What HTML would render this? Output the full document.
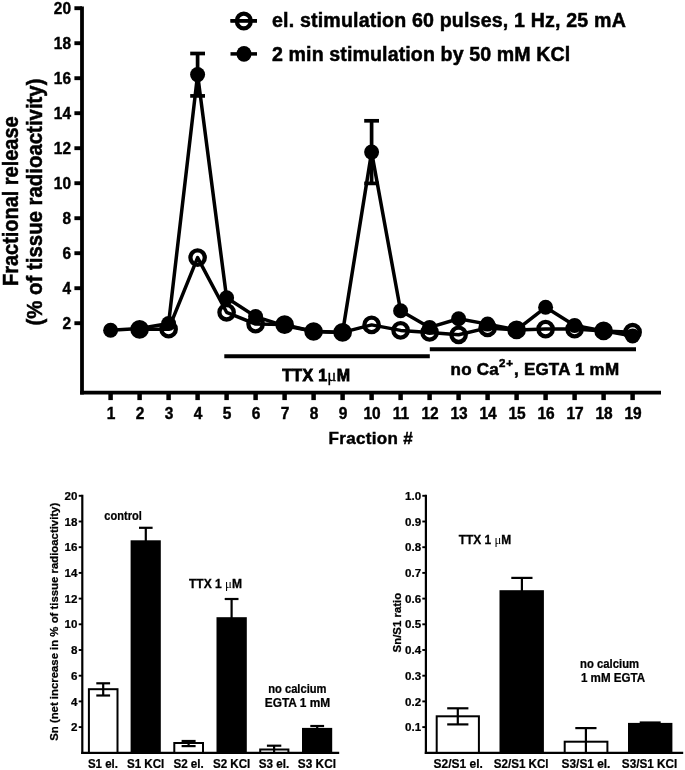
<!DOCTYPE html>
<html lang="en">
<head>
<meta charset="utf-8">
<title>Fractional release figure</title>
<style>
html,body{margin:0;padding:0;background:#fff;}
body{width:685px;height:770px;overflow:hidden;}
svg{display:block;}
svg text{font-family:"Liberation Sans", Arial, Helvetica, sans-serif;font-weight:bold;fill:#000;}
</style>
</head>
<body>
<svg width="685" height="770" viewBox="0 0 685 770">
<rect x="0" y="0" width="685" height="770" fill="#fff"/>
<line x1="82.00" y1="6.45" x2="82.00" y2="394.50" stroke="#000" stroke-width="3.8" />
<line x1="80.10" y1="392.60" x2="661.00" y2="392.60" stroke="#000" stroke-width="3.8" />
<line x1="74.40" y1="323.20" x2="82.00" y2="323.20" stroke="#000" stroke-width="3.9" />
<text transform="translate(71.00,328.70) scale(0.975,1)" font-size="15.8" text-anchor="end" stroke="#000" stroke-width="0.40" >2</text>
<line x1="74.40" y1="288.20" x2="82.00" y2="288.20" stroke="#000" stroke-width="3.9" />
<text transform="translate(71.00,293.70) scale(0.975,1)" font-size="15.8" text-anchor="end" stroke="#000" stroke-width="0.40" >4</text>
<line x1="74.40" y1="253.20" x2="82.00" y2="253.20" stroke="#000" stroke-width="3.9" />
<text transform="translate(71.00,258.70) scale(0.975,1)" font-size="15.8" text-anchor="end" stroke="#000" stroke-width="0.40" >6</text>
<line x1="74.40" y1="218.20" x2="82.00" y2="218.20" stroke="#000" stroke-width="3.9" />
<text transform="translate(71.00,223.70) scale(0.975,1)" font-size="15.8" text-anchor="end" stroke="#000" stroke-width="0.40" >8</text>
<line x1="74.40" y1="183.20" x2="82.00" y2="183.20" stroke="#000" stroke-width="3.9" />
<text transform="translate(71.00,188.70) scale(0.975,1)" font-size="15.8" text-anchor="end" stroke="#000" stroke-width="0.40" >10</text>
<line x1="74.40" y1="148.20" x2="82.00" y2="148.20" stroke="#000" stroke-width="3.9" />
<text transform="translate(71.00,153.70) scale(0.975,1)" font-size="15.8" text-anchor="end" stroke="#000" stroke-width="0.40" >12</text>
<line x1="74.40" y1="113.20" x2="82.00" y2="113.20" stroke="#000" stroke-width="3.9" />
<text transform="translate(71.00,118.70) scale(0.975,1)" font-size="15.8" text-anchor="end" stroke="#000" stroke-width="0.40" >14</text>
<line x1="74.40" y1="78.20" x2="82.00" y2="78.20" stroke="#000" stroke-width="3.9" />
<text transform="translate(71.00,83.70) scale(0.975,1)" font-size="15.8" text-anchor="end" stroke="#000" stroke-width="0.40" >16</text>
<line x1="74.40" y1="43.20" x2="82.00" y2="43.20" stroke="#000" stroke-width="3.9" />
<text transform="translate(71.00,48.70) scale(0.975,1)" font-size="15.8" text-anchor="end" stroke="#000" stroke-width="0.40" >18</text>
<line x1="74.40" y1="8.20" x2="82.00" y2="8.20" stroke="#000" stroke-width="3.9" />
<text transform="translate(71.00,13.70) scale(0.975,1)" font-size="15.8" text-anchor="end" stroke="#000" stroke-width="0.40" >20</text>
<line x1="110.60" y1="392.60" x2="110.60" y2="400.10" stroke="#000" stroke-width="4.5" />
<text transform="translate(111.00,418.60) scale(0.917,1)" font-size="16.9" text-anchor="middle" stroke="#000" stroke-width="0.42" >1</text>
<line x1="139.60" y1="392.60" x2="139.60" y2="400.10" stroke="#000" stroke-width="4.5" />
<text transform="translate(140.00,418.60) scale(0.917,1)" font-size="16.9" text-anchor="middle" stroke="#000" stroke-width="0.42" >2</text>
<line x1="168.60" y1="392.60" x2="168.60" y2="400.10" stroke="#000" stroke-width="4.5" />
<text transform="translate(169.00,418.60) scale(0.917,1)" font-size="16.9" text-anchor="middle" stroke="#000" stroke-width="0.42" >3</text>
<line x1="197.60" y1="392.60" x2="197.60" y2="400.10" stroke="#000" stroke-width="4.5" />
<text transform="translate(198.00,418.60) scale(0.917,1)" font-size="16.9" text-anchor="middle" stroke="#000" stroke-width="0.42" >4</text>
<line x1="226.60" y1="392.60" x2="226.60" y2="400.10" stroke="#000" stroke-width="4.5" />
<text transform="translate(227.00,418.60) scale(0.917,1)" font-size="16.9" text-anchor="middle" stroke="#000" stroke-width="0.42" >5</text>
<line x1="255.60" y1="392.60" x2="255.60" y2="400.10" stroke="#000" stroke-width="4.5" />
<text transform="translate(256.00,418.60) scale(0.917,1)" font-size="16.9" text-anchor="middle" stroke="#000" stroke-width="0.42" >6</text>
<line x1="284.60" y1="392.60" x2="284.60" y2="400.10" stroke="#000" stroke-width="4.5" />
<text transform="translate(285.00,418.60) scale(0.917,1)" font-size="16.9" text-anchor="middle" stroke="#000" stroke-width="0.42" >7</text>
<line x1="313.60" y1="392.60" x2="313.60" y2="400.10" stroke="#000" stroke-width="4.5" />
<text transform="translate(314.00,418.60) scale(0.917,1)" font-size="16.9" text-anchor="middle" stroke="#000" stroke-width="0.42" >8</text>
<line x1="342.60" y1="392.60" x2="342.60" y2="400.10" stroke="#000" stroke-width="4.5" />
<text transform="translate(343.00,418.60) scale(0.917,1)" font-size="16.9" text-anchor="middle" stroke="#000" stroke-width="0.42" >9</text>
<line x1="371.60" y1="392.60" x2="371.60" y2="400.10" stroke="#000" stroke-width="4.5" />
<text transform="translate(372.00,418.60) scale(0.917,1)" font-size="16.9" text-anchor="middle" stroke="#000" stroke-width="0.42" >10</text>
<line x1="400.60" y1="392.60" x2="400.60" y2="400.10" stroke="#000" stroke-width="4.5" />
<text transform="translate(401.00,418.60) scale(0.917,1)" font-size="16.9" text-anchor="middle" stroke="#000" stroke-width="0.42" >11</text>
<line x1="429.60" y1="392.60" x2="429.60" y2="400.10" stroke="#000" stroke-width="4.5" />
<text transform="translate(430.00,418.60) scale(0.917,1)" font-size="16.9" text-anchor="middle" stroke="#000" stroke-width="0.42" >12</text>
<line x1="458.60" y1="392.60" x2="458.60" y2="400.10" stroke="#000" stroke-width="4.5" />
<text transform="translate(459.00,418.60) scale(0.917,1)" font-size="16.9" text-anchor="middle" stroke="#000" stroke-width="0.42" >13</text>
<line x1="487.60" y1="392.60" x2="487.60" y2="400.10" stroke="#000" stroke-width="4.5" />
<text transform="translate(488.00,418.60) scale(0.917,1)" font-size="16.9" text-anchor="middle" stroke="#000" stroke-width="0.42" >14</text>
<line x1="516.60" y1="392.60" x2="516.60" y2="400.10" stroke="#000" stroke-width="4.5" />
<text transform="translate(517.00,418.60) scale(0.917,1)" font-size="16.9" text-anchor="middle" stroke="#000" stroke-width="0.42" >15</text>
<line x1="545.60" y1="392.60" x2="545.60" y2="400.10" stroke="#000" stroke-width="4.5" />
<text transform="translate(546.00,418.60) scale(0.917,1)" font-size="16.9" text-anchor="middle" stroke="#000" stroke-width="0.42" >16</text>
<line x1="574.60" y1="392.60" x2="574.60" y2="400.10" stroke="#000" stroke-width="4.5" />
<text transform="translate(575.00,418.60) scale(0.917,1)" font-size="16.9" text-anchor="middle" stroke="#000" stroke-width="0.42" >17</text>
<line x1="603.60" y1="392.60" x2="603.60" y2="400.10" stroke="#000" stroke-width="4.5" />
<text transform="translate(604.00,418.60) scale(0.917,1)" font-size="16.9" text-anchor="middle" stroke="#000" stroke-width="0.42" >18</text>
<line x1="632.60" y1="392.60" x2="632.60" y2="400.10" stroke="#000" stroke-width="4.5" />
<text transform="translate(633.00,418.60) scale(0.917,1)" font-size="16.9" text-anchor="middle" stroke="#000" stroke-width="0.42" >19</text>
<text transform="translate(17.8,201.2) rotate(-90)" font-size="21.2" text-anchor="middle" textLength="169.5" lengthAdjust="spacingAndGlyphs" stroke="#000" stroke-width="0.5">Fractional release</text>
<text transform="translate(41.7,202) rotate(-90)" font-size="21.2" text-anchor="middle" textLength="247" lengthAdjust="spacingAndGlyphs" stroke="#000" stroke-width="0.5">(% of tissue radioactivity)</text>
<text x="328.60" y="444.00" font-size="17" text-anchor="start" textLength="84.0" lengthAdjust="spacing" stroke="#000" stroke-width="0.43" >Fraction #</text>
<line x1="224.30" y1="356.20" x2="429.80" y2="356.20" stroke="#000" stroke-width="3.9" />
<line x1="429.80" y1="349.30" x2="636.00" y2="349.30" stroke="#000" stroke-width="3.9" />
<text x="282.3" y="381.3" font-size="16" stroke="#000" stroke-width="0.8" textLength="67.8" lengthAdjust="spacing">TTX 1<tspan stroke-width="0.3" font-family='"Liberation Serif", "DejaVu Serif", serif' font-weight="normal" font-size="17">μ</tspan>M</text>
<text x="450.6" y="374.8" font-size="17" textLength="168.5" lengthAdjust="spacing" stroke="#000" stroke-width="0.55">no Ca<tspan font-size="11.5" dy="-7.8" letter-spacing="0.8">2+</tspan><tspan dy="7.8">, EGTA 1 mM</tspan></text>
<polyline points="139.6,329.3 168.6,329.2 197.6,257.6 226.6,312.3 255.6,324.1 284.6,324.6 313.6,331.5 342.6,332.4 371.6,324.9 400.6,330.4 429.6,332.4 458.6,334.8 487.6,327.9 516.6,329.9 545.6,329.1 574.6,329.1 603.6,330.9 632.6,332.2" fill="none" stroke="#000" stroke-width="3.5" stroke-linejoin="round"/>
<circle cx="139.6" cy="329.3" r="7.2" fill="none" stroke="#000" stroke-width="4.3"/>
<circle cx="168.6" cy="329.2" r="7.2" fill="none" stroke="#000" stroke-width="4.3"/>
<circle cx="197.6" cy="257.6" r="7.2" fill="none" stroke="#000" stroke-width="4.3"/>
<circle cx="226.6" cy="312.3" r="7.2" fill="none" stroke="#000" stroke-width="4.3"/>
<circle cx="255.6" cy="324.1" r="7.2" fill="none" stroke="#000" stroke-width="4.3"/>
<circle cx="284.6" cy="324.6" r="7.2" fill="none" stroke="#000" stroke-width="4.3"/>
<circle cx="313.6" cy="331.5" r="7.2" fill="none" stroke="#000" stroke-width="4.3"/>
<circle cx="342.6" cy="332.4" r="7.2" fill="none" stroke="#000" stroke-width="4.3"/>
<circle cx="371.6" cy="324.9" r="7.2" fill="none" stroke="#000" stroke-width="4.3"/>
<circle cx="400.6" cy="330.4" r="7.2" fill="none" stroke="#000" stroke-width="4.3"/>
<circle cx="429.6" cy="332.4" r="7.2" fill="none" stroke="#000" stroke-width="4.3"/>
<circle cx="458.6" cy="334.8" r="7.2" fill="none" stroke="#000" stroke-width="4.3"/>
<circle cx="487.6" cy="327.9" r="7.2" fill="none" stroke="#000" stroke-width="4.3"/>
<circle cx="516.6" cy="329.9" r="7.2" fill="none" stroke="#000" stroke-width="4.3"/>
<circle cx="545.6" cy="329.1" r="7.2" fill="none" stroke="#000" stroke-width="4.3"/>
<circle cx="574.6" cy="329.1" r="7.2" fill="none" stroke="#000" stroke-width="4.3"/>
<circle cx="603.6" cy="330.9" r="7.2" fill="none" stroke="#000" stroke-width="4.3"/>
<circle cx="632.6" cy="332.2" r="7.2" fill="none" stroke="#000" stroke-width="4.3"/>
<line x1="197.60" y1="53.50" x2="197.60" y2="95.90" stroke="#000" stroke-width="3.7" />
<line x1="190.20" y1="53.50" x2="205.00" y2="53.50" stroke="#000" stroke-width="3.7" />
<line x1="190.20" y1="95.90" x2="205.00" y2="95.90" stroke="#000" stroke-width="3.7" />
<line x1="371.60" y1="120.80" x2="371.60" y2="183.40" stroke="#000" stroke-width="3.7" />
<line x1="364.20" y1="120.80" x2="379.00" y2="120.80" stroke="#000" stroke-width="3.7" />
<line x1="364.20" y1="183.40" x2="379.00" y2="183.40" stroke="#000" stroke-width="3.7" />
<polyline points="110.6,330.2 139.6,328.4 168.6,323.5 197.6,74.6 226.6,297.8 255.6,316.6 284.6,325.8 313.6,331.3 342.6,332.4 371.6,152.1 400.6,310.8 429.6,327.4 458.6,318.7 487.6,324.1 516.6,329.9 545.6,307.3 574.6,325.4 603.6,330.9 632.6,336.0" fill="none" stroke="#000" stroke-width="3.5" stroke-linejoin="round"/>
<circle cx="110.6" cy="330.2" r="7.5" fill="#000"/>
<circle cx="139.6" cy="328.4" r="7.5" fill="#000"/>
<circle cx="168.6" cy="323.5" r="7.5" fill="#000"/>
<circle cx="197.6" cy="74.6" r="7.5" fill="#000"/>
<circle cx="226.6" cy="297.8" r="7.5" fill="#000"/>
<circle cx="255.6" cy="316.6" r="7.5" fill="#000"/>
<circle cx="284.6" cy="325.8" r="7.5" fill="#000"/>
<circle cx="313.6" cy="331.3" r="7.5" fill="#000"/>
<circle cx="342.6" cy="332.4" r="7.5" fill="#000"/>
<circle cx="371.6" cy="152.1" r="7.5" fill="#000"/>
<circle cx="400.6" cy="310.8" r="7.5" fill="#000"/>
<circle cx="429.6" cy="327.4" r="7.5" fill="#000"/>
<circle cx="458.6" cy="318.7" r="7.5" fill="#000"/>
<circle cx="487.6" cy="324.1" r="7.5" fill="#000"/>
<circle cx="516.6" cy="329.9" r="7.5" fill="#000"/>
<circle cx="545.6" cy="307.3" r="7.5" fill="#000"/>
<circle cx="574.6" cy="325.4" r="7.5" fill="#000"/>
<circle cx="603.6" cy="330.9" r="7.5" fill="#000"/>
<circle cx="632.6" cy="336.0" r="7.5" fill="#000"/>
<line x1="230.50" y1="20.80" x2="257.00" y2="20.80" stroke="#000" stroke-width="3.5" />
<ellipse cx="243.8" cy="21.0" rx="7.0" ry="7.4" fill="none" stroke="#000" stroke-width="4.2"/>
<line x1="230.50" y1="20.80" x2="257.00" y2="20.80" stroke="#000" stroke-width="3.5" />
<line x1="230.50" y1="53.90" x2="257.00" y2="53.90" stroke="#000" stroke-width="3.5" />
<ellipse cx="244.0" cy="53.9" rx="7.5" ry="7.9" fill="#000"/>
<text x="272.00" y="27.40" font-size="19.6" text-anchor="start" textLength="353.8" lengthAdjust="spacing" stroke="#000" stroke-width="0.49" >el. stimulation 60 pulses, 1 Hz, 25 mA</text>
<text x="272.00" y="60.50" font-size="19.6" text-anchor="start" textLength="298.3" lengthAdjust="spacing" stroke="#000" stroke-width="0.49" >2 min stimulation by 50 mM KCl</text>
<line x1="82.30" y1="494.80" x2="82.30" y2="753.90" stroke="#000" stroke-width="2.2" />
<line x1="81.20" y1="752.80" x2="339.20" y2="752.80" stroke="#000" stroke-width="2.2" />
<line x1="78.70" y1="727.10" x2="82.30" y2="727.10" stroke="#000" stroke-width="1.9" />
<text x="77.50" y="731.25" font-size="11.6" text-anchor="end" stroke="#000" stroke-width="0.23" >2</text>
<line x1="78.70" y1="701.40" x2="82.30" y2="701.40" stroke="#000" stroke-width="1.9" />
<text x="77.50" y="705.55" font-size="11.6" text-anchor="end" stroke="#000" stroke-width="0.23" >4</text>
<line x1="78.70" y1="675.70" x2="82.30" y2="675.70" stroke="#000" stroke-width="1.9" />
<text x="77.50" y="679.85" font-size="11.6" text-anchor="end" stroke="#000" stroke-width="0.23" >6</text>
<line x1="78.70" y1="650.00" x2="82.30" y2="650.00" stroke="#000" stroke-width="1.9" />
<text x="77.50" y="654.15" font-size="11.6" text-anchor="end" stroke="#000" stroke-width="0.23" >8</text>
<line x1="78.70" y1="624.30" x2="82.30" y2="624.30" stroke="#000" stroke-width="1.9" />
<text x="77.50" y="628.45" font-size="11.6" text-anchor="end" stroke="#000" stroke-width="0.23" >10</text>
<line x1="78.70" y1="598.60" x2="82.30" y2="598.60" stroke="#000" stroke-width="1.9" />
<text x="77.50" y="602.75" font-size="11.6" text-anchor="end" stroke="#000" stroke-width="0.23" >12</text>
<line x1="78.70" y1="572.90" x2="82.30" y2="572.90" stroke="#000" stroke-width="1.9" />
<text x="77.50" y="577.05" font-size="11.6" text-anchor="end" stroke="#000" stroke-width="0.23" >14</text>
<line x1="78.70" y1="547.20" x2="82.30" y2="547.20" stroke="#000" stroke-width="1.9" />
<text x="77.50" y="551.35" font-size="11.6" text-anchor="end" stroke="#000" stroke-width="0.23" >16</text>
<line x1="78.70" y1="521.50" x2="82.30" y2="521.50" stroke="#000" stroke-width="1.9" />
<text x="77.50" y="525.65" font-size="11.6" text-anchor="end" stroke="#000" stroke-width="0.23" >18</text>
<line x1="78.70" y1="495.80" x2="82.30" y2="495.80" stroke="#000" stroke-width="1.9" />
<text x="77.50" y="499.95" font-size="11.6" text-anchor="end" stroke="#000" stroke-width="0.23" >20</text>
<text transform="translate(58.3,621.8) rotate(-90)" font-size="11.4" text-anchor="middle" textLength="238.0" lengthAdjust="spacing" stroke="#000" stroke-width="0.25">Sn (net increase in % of tissue radioactivity)</text>
<line x1="145.80" y1="527.80" x2="145.80" y2="545.00" stroke="#000" stroke-width="2.2" />
<line x1="139.00" y1="527.80" x2="152.60" y2="527.80" stroke="#000" stroke-width="2.2" />
<rect x="130.60" y="540.30" width="30.20" height="212.50" fill="#000"/>
<rect x="88.90" y="689.20" width="28.60" height="63.60" fill="#fff" stroke="#000" stroke-width="2"/>
<line x1="103.20" y1="683.30" x2="103.20" y2="695.50" stroke="#000" stroke-width="2.2" />
<line x1="96.30" y1="683.30" x2="110.10" y2="683.30" stroke="#000" stroke-width="2.2" />
<line x1="96.30" y1="695.50" x2="110.10" y2="695.50" stroke="#000" stroke-width="2.2" />
<rect x="174.30" y="743.00" width="28.70" height="9.80" fill="#fff" stroke="#000" stroke-width="2"/>
<line x1="188.60" y1="741.00" x2="188.60" y2="746.10" stroke="#000" stroke-width="2.2" />
<line x1="181.60" y1="741.00" x2="195.60" y2="741.00" stroke="#000" stroke-width="2.2" />
<line x1="181.60" y1="746.10" x2="195.60" y2="746.10" stroke="#000" stroke-width="2.2" />
<line x1="231.60" y1="599.00" x2="231.60" y2="620.00" stroke="#000" stroke-width="2.2" />
<line x1="224.70" y1="599.00" x2="238.50" y2="599.00" stroke="#000" stroke-width="2.2" />
<rect x="216.50" y="617.20" width="30.30" height="135.60" fill="#000"/>
<rect x="260.20" y="749.50" width="28.20" height="3.30" fill="#fff" stroke="#000" stroke-width="2"/>
<line x1="274.10" y1="745.70" x2="274.10" y2="752.80" stroke="#000" stroke-width="2.2" />
<line x1="266.90" y1="745.70" x2="281.30" y2="745.70" stroke="#000" stroke-width="2.2" />
<line x1="317.20" y1="726.00" x2="317.20" y2="730.00" stroke="#000" stroke-width="2.2" />
<line x1="310.30" y1="726.00" x2="324.10" y2="726.00" stroke="#000" stroke-width="2.2" />
<rect x="302.00" y="727.90" width="30.20" height="24.90" fill="#000"/>
<text x="87.90" y="768.00" font-size="12.2" text-anchor="start" textLength="30.0" lengthAdjust="spacingAndGlyphs" stroke="#000" stroke-width="0.24" >S1 el.</text>
<text x="126.90" y="768.00" font-size="12.2" text-anchor="start" textLength="37.4" lengthAdjust="spacingAndGlyphs" stroke="#000" stroke-width="0.24" >S1 KCl</text>
<text x="173.40" y="768.00" font-size="12.2" text-anchor="start" textLength="30.4" lengthAdjust="spacingAndGlyphs" stroke="#000" stroke-width="0.24" >S2 el.</text>
<text x="212.90" y="768.00" font-size="12.2" text-anchor="start" textLength="37.4" lengthAdjust="spacingAndGlyphs" stroke="#000" stroke-width="0.24" >S2 KCl</text>
<text x="258.80" y="768.00" font-size="12.2" text-anchor="start" textLength="30.4" lengthAdjust="spacingAndGlyphs" stroke="#000" stroke-width="0.24" >S3 el.</text>
<text x="297.80" y="768.00" font-size="12.2" text-anchor="start" textLength="38.2" lengthAdjust="spacingAndGlyphs" stroke="#000" stroke-width="0.24" >S3 KCl</text>
<text x="104.30" y="519.70" font-size="12.2" text-anchor="start" textLength="37.5" lengthAdjust="spacingAndGlyphs" stroke="#000" stroke-width="0.24" >control</text>
<text x="189.0" y="588.0" font-size="12.2" textLength="53.0" lengthAdjust="spacingAndGlyphs" stroke="#000" stroke-width="0.3">TTX 1 <tspan stroke="none" font-family='"Liberation Serif", "DejaVu Serif", serif' font-weight="normal" font-size="13">μ</tspan>M</text>
<text x="268.20" y="692.60" font-size="12.2" text-anchor="start" textLength="58.3" lengthAdjust="spacingAndGlyphs" stroke="#000" stroke-width="0.24" >no calcium</text>
<text x="264.70" y="706.90" font-size="12.2" text-anchor="start" textLength="65.5" lengthAdjust="spacingAndGlyphs" stroke="#000" stroke-width="0.24" >EGTA 1 mM</text>
<line x1="425.90" y1="494.80" x2="425.90" y2="753.90" stroke="#000" stroke-width="2.2" />
<line x1="424.80" y1="752.80" x2="683.20" y2="752.80" stroke="#000" stroke-width="2.2" />
<line x1="422.30" y1="727.10" x2="425.90" y2="727.10" stroke="#000" stroke-width="1.9" />
<text x="421.10" y="731.25" font-size="11.6" text-anchor="end" stroke="#000" stroke-width="0.23" >0.1</text>
<line x1="422.30" y1="701.40" x2="425.90" y2="701.40" stroke="#000" stroke-width="1.9" />
<text x="421.10" y="705.55" font-size="11.6" text-anchor="end" stroke="#000" stroke-width="0.23" >0.2</text>
<line x1="422.30" y1="675.70" x2="425.90" y2="675.70" stroke="#000" stroke-width="1.9" />
<text x="421.10" y="679.85" font-size="11.6" text-anchor="end" stroke="#000" stroke-width="0.23" >0.3</text>
<line x1="422.30" y1="650.00" x2="425.90" y2="650.00" stroke="#000" stroke-width="1.9" />
<text x="421.10" y="654.15" font-size="11.6" text-anchor="end" stroke="#000" stroke-width="0.23" >0.4</text>
<line x1="422.30" y1="624.30" x2="425.90" y2="624.30" stroke="#000" stroke-width="1.9" />
<text x="421.10" y="628.45" font-size="11.6" text-anchor="end" stroke="#000" stroke-width="0.23" >0.5</text>
<line x1="422.30" y1="598.60" x2="425.90" y2="598.60" stroke="#000" stroke-width="1.9" />
<text x="421.10" y="602.75" font-size="11.6" text-anchor="end" stroke="#000" stroke-width="0.23" >0.6</text>
<line x1="422.30" y1="572.90" x2="425.90" y2="572.90" stroke="#000" stroke-width="1.9" />
<text x="421.10" y="577.05" font-size="11.6" text-anchor="end" stroke="#000" stroke-width="0.23" >0.7</text>
<line x1="422.30" y1="547.20" x2="425.90" y2="547.20" stroke="#000" stroke-width="1.9" />
<text x="421.10" y="551.35" font-size="11.6" text-anchor="end" stroke="#000" stroke-width="0.23" >0.8</text>
<line x1="422.30" y1="521.50" x2="425.90" y2="521.50" stroke="#000" stroke-width="1.9" />
<text x="421.10" y="525.65" font-size="11.6" text-anchor="end" stroke="#000" stroke-width="0.23" >0.9</text>
<line x1="422.30" y1="495.80" x2="425.90" y2="495.80" stroke="#000" stroke-width="1.9" />
<text x="421.10" y="499.95" font-size="11.6" text-anchor="end" stroke="#000" stroke-width="0.23" >1.0</text>
<text transform="translate(400.9,622.6) rotate(-90)" font-size="11.4" text-anchor="middle" textLength="59.6" lengthAdjust="spacing" stroke="#000" stroke-width="0.25">Sn/S1 ratio</text>
<line x1="521.90" y1="577.90" x2="521.90" y2="595.00" stroke="#000" stroke-width="2.2" />
<line x1="511.30" y1="577.90" x2="532.50" y2="577.90" stroke="#000" stroke-width="2.2" />
<rect x="499.50" y="590.20" width="44.40" height="162.60" fill="#000"/>
<rect x="436.70" y="716.30" width="42.20" height="36.50" fill="#fff" stroke="#000" stroke-width="2"/>
<line x1="457.80" y1="708.30" x2="457.80" y2="724.40" stroke="#000" stroke-width="2.2" />
<line x1="447.20" y1="708.30" x2="468.40" y2="708.30" stroke="#000" stroke-width="2.2" />
<line x1="447.20" y1="724.40" x2="468.40" y2="724.40" stroke="#000" stroke-width="2.2" />
<rect x="564.70" y="741.70" width="42.70" height="11.10" fill="#fff" stroke="#000" stroke-width="2"/>
<line x1="585.90" y1="728.10" x2="585.90" y2="752.80" stroke="#000" stroke-width="2.2" />
<line x1="575.30" y1="728.10" x2="596.50" y2="728.10" stroke="#000" stroke-width="2.2" />
<line x1="650.20" y1="722.50" x2="650.20" y2="724.00" stroke="#000" stroke-width="2.2" />
<line x1="639.70" y1="722.50" x2="660.70" y2="722.50" stroke="#000" stroke-width="2.2" />
<rect x="628.00" y="722.90" width="44.40" height="29.90" fill="#000"/>
<text x="433.60" y="768.00" font-size="12.2" text-anchor="start" textLength="49.2" lengthAdjust="spacingAndGlyphs" stroke="#000" stroke-width="0.24" >S2/S1 el.</text>
<text x="493.80" y="768.00" font-size="12.2" text-anchor="start" textLength="54.8" lengthAdjust="spacingAndGlyphs" stroke="#000" stroke-width="0.24" >S2/S1 KCl</text>
<text x="561.60" y="768.00" font-size="12.2" text-anchor="start" textLength="48.8" lengthAdjust="spacingAndGlyphs" stroke="#000" stroke-width="0.24" >S3/S1 el.</text>
<text x="621.80" y="768.00" font-size="12.2" text-anchor="start" textLength="55.5" lengthAdjust="spacingAndGlyphs" stroke="#000" stroke-width="0.24" >S3/S1 KCl</text>
<text x="458.7" y="544.0" font-size="12.2" textLength="52.5" lengthAdjust="spacingAndGlyphs" stroke="#000" stroke-width="0.3">TTX 1 <tspan stroke="none" font-family='"Liberation Serif", "DejaVu Serif", serif' font-weight="normal" font-size="13">μ</tspan>M</text>
<text x="580.10" y="667.90" font-size="12.2" text-anchor="start" textLength="59.0" lengthAdjust="spacingAndGlyphs" stroke="#000" stroke-width="0.24" >no calcium</text>
<text x="580.90" y="681.90" font-size="12.2" text-anchor="start" textLength="64.3" lengthAdjust="spacingAndGlyphs" stroke="#000" stroke-width="0.24" >1 mM EGTA</text>
</svg>
</body>
</html>
